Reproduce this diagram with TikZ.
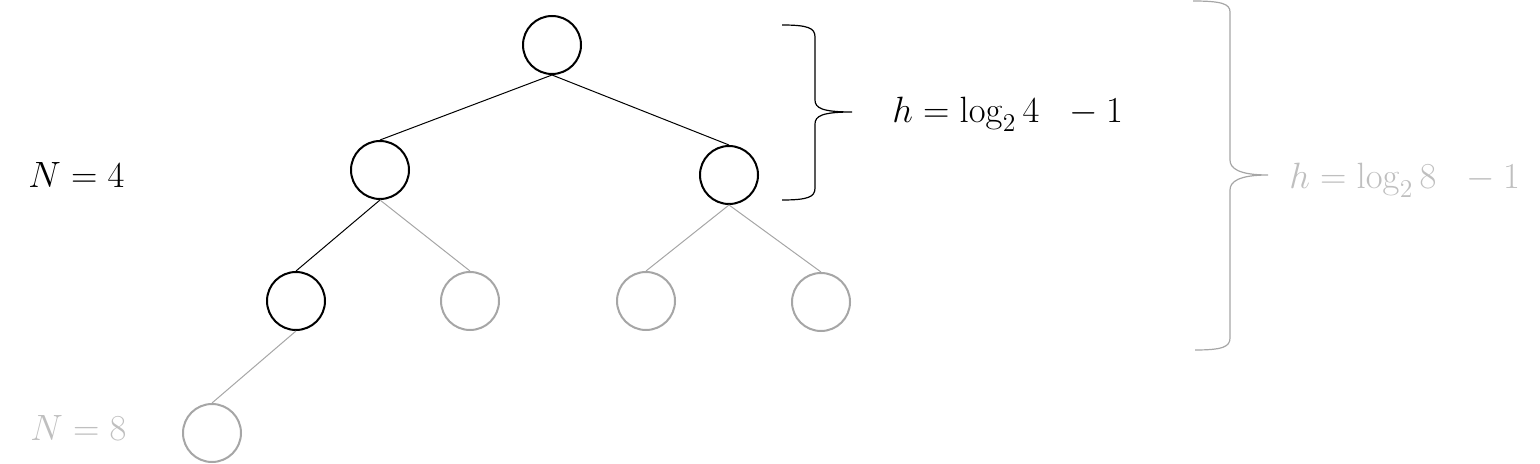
\RequirePackage{fix-cm}
\documentclass[tikz,border=0pt]{standalone}
\definecolor{graycirc}{RGB}{166,166,166}
\definecolor{graytext}{RGB}{191,191,191}
\begin{document}
\begin{tikzpicture}[x=0.5pt,y=-0.5pt,
  treenode/.style={circle,draw,line width=1pt,minimum size=29pt,inner sep=0pt},
  blacknode/.style={treenode,draw=black},
  graynode/.style={treenode,draw=graycirc},
  blackedge/.style={draw=black,line width=0.5pt},
  grayedge/.style={draw=graycirc,line width=0.5pt},
  lbl/.style={anchor=base west,inner sep=0pt,font=\fontsize{18.3}{22}\selectfont}]
\useasboundingbox (0,0) rectangle (1540,464);
\node[blacknode] (r) at (552,45) {};
\node[blacknode] (a) at (380,170) {};
\node[blacknode] (b) at (729,175) {};
\node[blacknode] (c) at (296,301) {};
\node[graynode] (d) at (470,301) {};
\node[graynode] (e) at (646,301) {};
\node[graynode] (f) at (821,302) {};
\node[graynode] (g) at (212,433) {};
\draw[blackedge] (r.south) -- (a.north);
\draw[blackedge] (r.south) -- (b.north);
\draw[blackedge] (a.south) -- (c.north);
\draw[grayedge] (a.south) -- (d.north);
\draw[grayedge] (b.south) -- (e.north);
\draw[grayedge] (b.south) -- (f.north);
\draw[grayedge] (c.south) -- (g.north);
% braces
\draw[black,line width=0.6pt] (782,25) .. controls (808,25) and (815,28) .. (815,37) -- (815,100)
  .. controls (815,108) and (822,112) .. (852,112)
  .. controls (822,112) and (815,116) .. (815,124) -- (815,188)
  .. controls (815,197) and (808,200) .. (782,200);
\draw[graycirc,line width=0.6pt] (1193,1) .. controls (1222,1) and (1230,4) .. (1230,12) -- (1230,160)
  .. controls (1230,168) and (1238,175) .. (1268,175)
  .. controls (1238,175) and (1230,182) .. (1230,190) -- (1230,338)
  .. controls (1230,347) and (1222,350) .. (1195,350);
% labels
\node[lbl] (h4) at (892,123) {$h=\log_2 4\hspace{0.6em}-1$};
\node[lbl,text=graytext] (h8) at (1289,189) {$h=\log_2 8\hspace{0.6em}-1$};
\node[lbl] (n4) at (28,188) {$N=4$};
\node[lbl,text=graytext] (n8) at (30,440) {$N=8$};
\end{tikzpicture}
\end{document}
